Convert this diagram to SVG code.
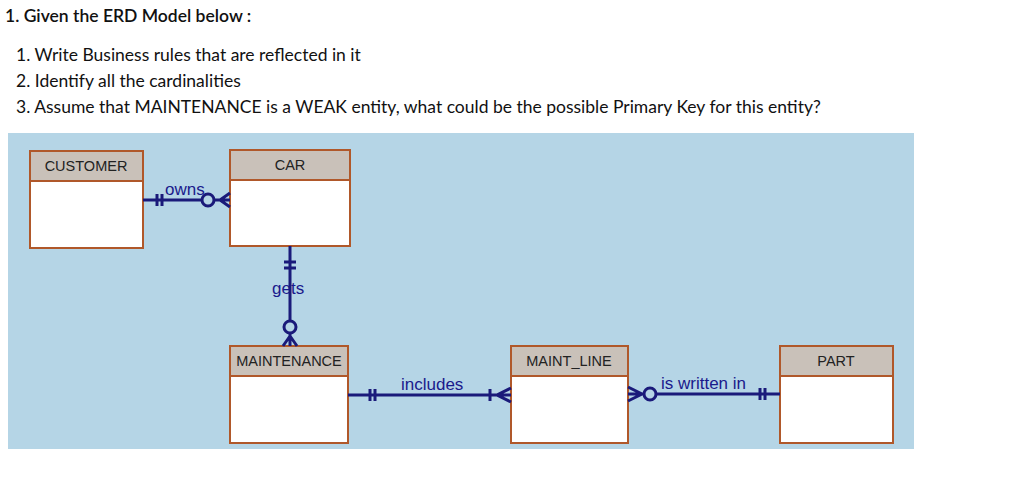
<svg xmlns="http://www.w3.org/2000/svg" width="1024" height="494" viewBox="0 0 1024 494">
<style>
.t{font-family:Lato,"Liberation Sans",sans-serif;font-size:17.5px;fill:#111}
.h{fill:#c9c1b9;stroke:#b0582a;stroke-width:2}
.b{fill:#fff;stroke:#b0582a;stroke-width:2}
.n{font-family:"Liberation Sans",Arial,sans-serif;font-size:14.5px;fill:#222;text-anchor:middle}
.l{font-family:"Liberation Sans",Arial,sans-serif;font-size:17px;fill:#1a1a8c}
.c{stroke:#1a1a7a;stroke-width:3;fill:none}
</style>
<rect width="1024" height="494" fill="#fff"/>
<text class="t" x="5" y="22" font-weight="600">1. Given the ERD Model below :</text>
<text class="t" x="16" y="61">1. Write Business rules that are reflected in it</text>
<text class="t" x="16" y="87">2. Identify all the cardinalities</text>
<text class="t" x="16" y="113">3. Assume that MAINTENANCE is a WEAK entity, what could be the possible Primary Key for this entity?</text>
<rect x="8" y="133" width="906" height="316" fill="#b5d5e6"/>
<g id="customer"><rect class="b" x="30" y="181" width="113" height="67"/><rect class="h" x="30" y="151" width="113" height="30"/><text class="n" x="86" y="171">CUSTOMER</text></g>
<g id="car"><rect class="b" x="230" y="180" width="120" height="66"/><rect class="h" x="230" y="150" width="120" height="30"/><text class="n" x="290" y="170">CAR</text></g>
<g id="maintenance"><rect class="b" x="230" y="376" width="118" height="67"/><rect class="h" x="230" y="346" width="118" height="30"/><text class="n" x="289" y="366">MAINTENANCE</text></g>
<g id="maint_line"><rect class="b" x="511" y="376" width="117" height="67"/><rect class="h" x="511" y="346" width="117" height="30"/><text class="n" x="569" y="366">MAINT_LINE</text></g>
<g id="part"><rect class="b" x="780" y="376" width="113" height="67"/><rect class="h" x="780" y="346" width="113" height="30"/><text class="n" x="836" y="366">PART</text></g>
<g id="connectors">
<path class="c" d="M143 200H202M157 194v12M162 194v12M214 200H230M230 193L220 200L230 207"/>
<circle class="c" cx="208" cy="200" r="6"/>
<text class="l" x="165" y="195">owns</text>
<path class="c" d="M290 246V321M284 262h12M284 268h12M290 333V346M283 346L290 336L297 346"/>
<circle class="c" cx="290" cy="327" r="6"/>
<text class="l" x="272" y="294">gets</text>
<path class="c" d="M348 395H511M370 389v12M375 389v12M490 389v12M511 388L497 395L511 402"/>
<text class="l" x="401" y="390">includes</text>
<path class="c" d="M628 394H644M656 394H780M628 387L642 394L628 401M760 388v12M765 388v12"/>
<circle class="c" cx="650" cy="394" r="6"/>
<text class="l" x="661" y="389">is written in</text>
</g>
</svg>
